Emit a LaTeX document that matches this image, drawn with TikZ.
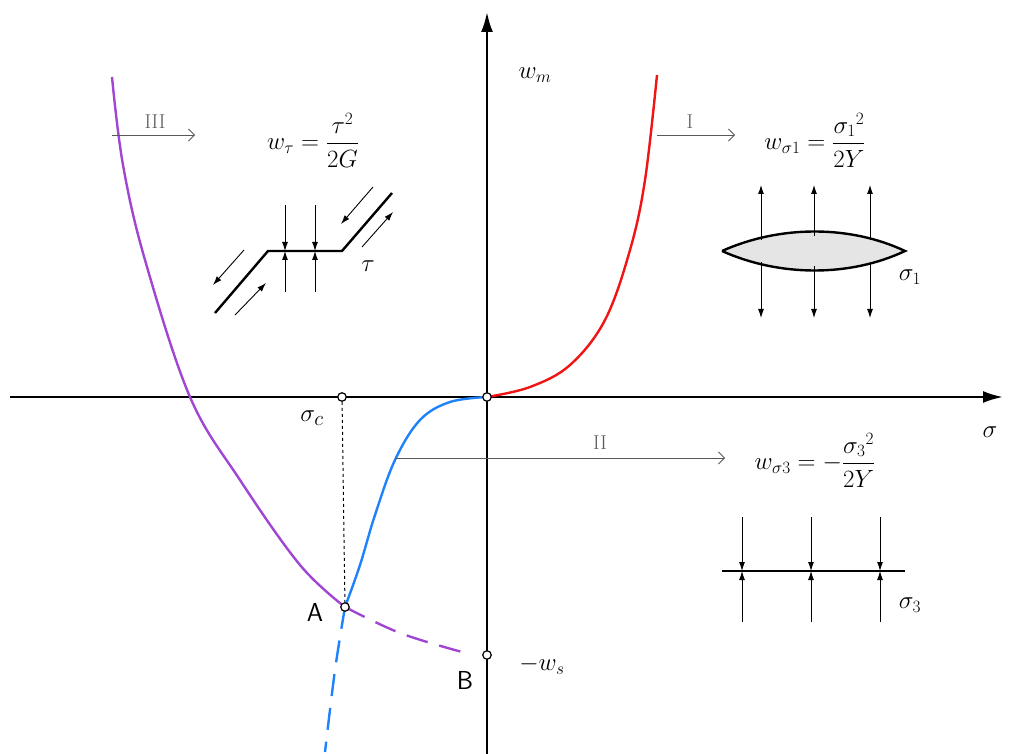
\documentclass[tikz,border=0pt]{standalone}
\usepackage{amsmath}
\usepackage{fontspec}
\usetikzlibrary{arrows.meta}
\definecolor{curveI}{RGB}{240,20,20}
\definecolor{curveII}{RGB}{30,130,250}
\definecolor{curveIII}{RGB}{160,70,210}
\tikzset{
  axis/.style={line width=2.4pt, -{Latex[length=20pt,width=12pt]}},
  thinarr/.style={gray!70!black, line width=0.8pt, -{Straight Barb[length=6pt]}},
  force/.style={line width=0.9pt, -{Latex[length=9pt,width=6pt]}},
  bar/.style={line width=2.4pt},
  dot/.style={circle, draw, line width=1.2pt, fill=white, inner sep=3pt},
  formula/.style={font=\fontsize{26}{30}\selectfont},
  roman/.style={gray!70!black, font=\fontsize{20}{24}\selectfont},
}
\begin{document}
\begin{tikzpicture}[x=1pt,y=-1pt]
\useasboundingbox (0,0) rectangle (1018,754);

% axes
\draw[axis] (10,397) -- (1003,397);
\draw[axis] (487,754) -- (487,12);
\node[font=\fontsize{40}{44}\selectfont] (sig) at (990,432) {$\sigma$};
\node[font=\fontsize{24}{28}\selectfont] (wm) at (535,75) {$w_m$};

% curves
\draw[curveI, line width=2.4pt] plot[smooth, tension=.6] coordinates {(487,397) (530,387) (570,365) (605,320) (630,250) (645,180) (657,75)};
\draw[curveII, line width=2.4pt] plot[smooth, tension=.6] coordinates {(487,397) (450,402) (420,420) (395,460) (375,515) (360,565) (345,607)};
\draw[curveII, line width=2.4pt, dash pattern=on 22pt off 12pt] plot[smooth, tension=.6] coordinates {(345,607) (335,670) (325,752)};
\draw[curveIII, line width=2.4pt] plot[smooth, tension=.6] coordinates {(112,77) (123,165) (145,260) (190,397) (240,480) (300,565) (345,607)};
\draw[curveIII, line width=2.4pt, dash pattern=on 22pt off 12pt] plot[smooth, tension=.6] coordinates {(345,607) (400,633) (462,652)};

% points
\node[dot] (O) at (487,397) {};
\node[dot] (C) at (342,397) {};
\node[dot] (A) at (345,607) {};
\node[dot] (B) at (487,655) {};
\draw[line width=1pt, dashed] (C) -- (A);
\node[font=\fontsize{28}{32}\selectfont] (sc) at (312,418) {$\sigma_c$};
\node[font=\sffamily\fontsize{26}{30}\selectfont] (la) at (315,612) {A};
\node[font=\sffamily\fontsize{26}{30}\selectfont] (lb) at (465,680) {B};
\node[font=\fontsize{26}{30}\selectfont] (ws) at (542,665) {$-w_s$};

% region markers
\coordinate (r3a) at (112,135); \coordinate (r3b) at (195,135);
\draw[thinarr] (r3a) -- (r3b);
\node[roman] (r3) at (155,122) {III};
\coordinate (r1a) at (657,135); \coordinate (r1b) at (735,135);
\draw[thinarr] (r1a) -- (r1b);
\node[roman] (r1) at (690,122) {I};
\coordinate (r2a) at (395,458); \coordinate (r2b) at (725,458);
\draw[thinarr] (r2a) -- (r2b);
\node[roman] (r2) at (600,443) {II};

% formulas
\node[formula] (ft) at (313,140) {$w_\tau=\dfrac{\tau^2}{2G}$};
\node[formula] (f1) at (815,140) {$w_{\sigma1}=\dfrac{{\sigma_1}^2}{2Y}$};
\node[formula] (f3) at (815,460) {$w_{\sigma3}=-\dfrac{{\sigma_3}^2}{2Y}$};

% shear element
\draw[bar] (215,313) -- (268,251) -- (342,251) -- (392,193);
\foreach \x in {285,315} {
  \draw[force] (\x,205) -- (\x,251);
  \draw[force] (\x,292) -- (\x,251);
}
\draw[force] (244,250) -- (213,285);
\draw[force] (235,315) -- (266,283);
\draw[force] (373,187) -- (341,224);
\draw[force] (362,247) -- (393,212);
\node[font=\fontsize{36}{40}\selectfont] (tau) at (368,266) {$\tau$};

% tension element
\draw[bar, fill=gray!20] (722,251) .. controls (780,225) and (850,225) .. (905,251) .. controls (850,277) and (780,277) .. (722,251);
\foreach \x/\t/\b in {761/240/262, 814/236/266, 870/240/262} {
  \draw[force] (\x,\t) -- (\x,185);
  \draw[force] (\x,\b) -- (\x,318);
}
\node[font=\fontsize{26}{30}\selectfont] (s1) at (910,277) {$\sigma_1$};

% compression element
\draw[bar] (722,571) -- (905,571);
\foreach \x in {742,811,880} {
  \draw[force] (\x,517) -- (\x,571);
  \draw[force] (\x,622) -- (\x,571);
}
\node[font=\fontsize{26}{30}\selectfont] (s3) at (910,605) {$\sigma_3$};
\end{tikzpicture}
\end{document}
